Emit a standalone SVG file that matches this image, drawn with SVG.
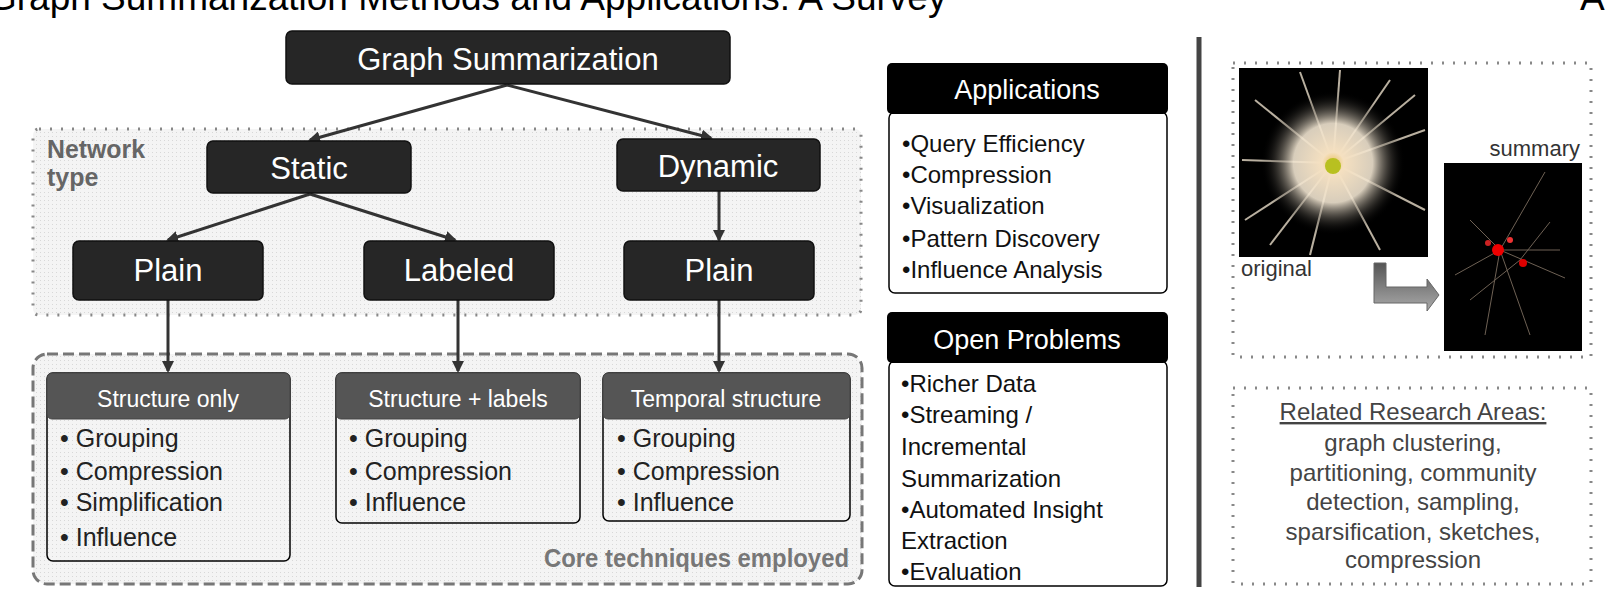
<svg xmlns="http://www.w3.org/2000/svg" width="1618" height="597" viewBox="0 0 1618 597">
<style>
text{font-family:"Liberation Sans",Arial,sans-serif}
.nb{fill:#262626;stroke:#111;stroke-width:1.5}
.nt{fill:#fff;font-size:31px;text-anchor:middle}
.hb{fill:#555;stroke:#444;stroke-width:1}
.ht{fill:#fff;font-size:23px;text-anchor:middle}
.lb{fill:none;stroke:#000;stroke-width:1.5}
.li{fill:#222;font-size:25px}
.ap{fill:#111;font-size:24px}
.ab{fill:#000}
.dot{fill:none;stroke:#888;stroke-width:3;stroke-dasharray:2 9}
.edge{stroke:#333;stroke-width:3;fill:none;marker-end:url(#ah)}
</style>
<defs>
<marker id="ah" markerWidth="12" markerHeight="12" refX="10" refY="6" orient="auto" markerUnits="userSpaceOnUse"><path d="M0,0 L12,6 L0,12 z" fill="#333"/></marker>
<pattern id="pt" width="4" height="4" patternUnits="userSpaceOnUse"><rect width="4" height="4" fill="#f4f4f4"/><rect width="1" height="1" fill="#d8d8d8"/></pattern>
<radialGradient id="burst"><stop offset="0" stop-color="#e8c060"/><stop offset="0.15" stop-color="#f5e0c0"/><stop offset="0.55" stop-color="#f0e4d0" stop-opacity="0.9"/><stop offset="1" stop-color="#000" stop-opacity="0"/></radialGradient>
<linearGradient id="arr" x1="0" y1="0" x2="0" y2="1"><stop offset="0" stop-color="#555"/><stop offset="1" stop-color="#aaa"/></linearGradient>
</defs>
<text x="-12" y="10" font-size="37" fill="#000">Graph Summarization Methods and Applications: A Survey</text>
<text x="1580" y="10" font-size="37" fill="#000">A</text>

<rect x="33" y="129" width="828" height="186" rx="6" style="fill:url(#pt)" class="dot"/>
<text x="47" y="158" font-size="25" font-weight="bold" fill="#666" textLength="98" lengthAdjust="spacingAndGlyphs">Network</text>
<text x="47" y="186" font-size="25" font-weight="bold" fill="#666">type</text>
<rect x="33" y="354" width="829" height="230" rx="14" fill="url(#pt)" stroke="#777" stroke-width="3" stroke-dasharray="11 5"/>
<text x="849" y="567" font-size="25" font-weight="bold" fill="#777" text-anchor="end" textLength="305" lengthAdjust="spacingAndGlyphs">Core techniques employed</text>

<g id="connectors">
<line class="edge" x1="507" y1="85" x2="310" y2="140"/>
<line class="edge" x1="507" y1="85" x2="711" y2="138"/>
<line class="edge" x1="310" y1="194" x2="168" y2="240"/>
<line class="edge" x1="310" y1="194" x2="455" y2="240"/>
<line class="edge" x1="719" y1="191" x2="719" y2="240"/>
<line class="edge" x1="168" y1="300" x2="168" y2="371"/>
<line class="edge" x1="458" y1="300" x2="458" y2="371"/>
<line class="edge" x1="719" y1="300" x2="719" y2="371"/>
</g>

<g id="n-root"><rect class="nb" x="286" y="31" width="444" height="53" rx="6"/><text class="nt" x="508" y="70">Graph Summarization</text></g>
<g id="n-static"><rect class="nb" x="207" y="141" width="204" height="52" rx="6"/><text class="nt" x="309" y="179">Static</text></g>
<g id="n-dynamic"><rect class="nb" x="617" y="139" width="203" height="52" rx="6"/><text class="nt" x="718" y="177">Dynamic</text></g>
<g id="n-plain1"><rect class="nb" x="73" y="241" width="190" height="59" rx="6"/><text class="nt" x="168" y="281">Plain</text></g>
<g id="n-labeled"><rect class="nb" x="364" y="241" width="190" height="59" rx="6"/><text class="nt" x="459" y="281">Labeled</text></g>
<g id="n-plain2"><rect class="nb" x="624" y="241" width="190" height="59" rx="6"/><text class="nt" x="719" y="281">Plain</text></g>

<g id="n-structure">
<rect class="lb" x="47" y="373" width="243" height="188" rx="6"/>
<rect class="hb" x="47" y="373" width="243" height="46" rx="5"/>
<text class="ht" x="168" y="407">Structure only</text>
<text class="li" x="60" y="447">•  Grouping</text>
<text class="li" x="60" y="480">•  Compression</text>
<text class="li" x="60" y="511">•  Simplification</text>
<text class="li" x="60" y="546">•  Influence</text>
</g>
<g id="n-structlabels">
<rect class="lb" x="336" y="373" width="244" height="150" rx="6"/>
<rect class="hb" x="336" y="373" width="244" height="46" rx="5"/>
<text class="ht" x="458" y="407">Structure + labels</text>
<text class="li" x="349" y="447">•  Grouping</text>
<text class="li" x="349" y="480">•  Compression</text>
<text class="li" x="349" y="511">•  Influence</text>
</g>
<g id="n-temporal">
<rect class="lb" x="603" y="373" width="247" height="148" rx="6"/>
<rect class="hb" x="603" y="373" width="247" height="46" rx="5"/>
<text class="ht" x="726" y="407">Temporal structure</text>
<text class="li" x="617" y="447">•  Grouping</text>
<text class="li" x="617" y="480">•  Compression</text>
<text class="li" x="617" y="511">•  Influence</text>
</g>

<g id="n-applications">
<rect class="lb" x="889" y="112" width="278" height="181" rx="6"/>
<rect class="ab" x="887" y="63" width="281" height="51" rx="5"/>
<text x="1027" y="99" font-size="27" fill="#fff" text-anchor="middle">Applications</text>
<text class="ap" x="902" y="152">•Query Efficiency</text>
<text class="ap" x="902" y="183">•Compression</text>
<text class="ap" x="902" y="214">•Visualization</text>
<text class="ap" x="902" y="247">•Pattern Discovery</text>
<text class="ap" x="902" y="278">•Influence Analysis</text>
</g>
<g id="n-open">
<rect class="lb" x="889" y="361" width="278" height="225" rx="6"/>
<rect class="ab" x="887" y="312" width="281" height="51" rx="5"/>
<text x="1027" y="349" font-size="27" fill="#fff" text-anchor="middle">Open Problems</text>
<text class="ap" x="901" y="392">•Richer Data</text>
<text class="ap" x="901" y="423">•Streaming /</text>
<text class="ap" x="901" y="455">Incremental</text>
<text class="ap" x="901" y="487">Summarization</text>
<text class="ap" x="901" y="518">•Automated Insight</text>
<text class="ap" x="901" y="549">Extraction</text>
<text class="ap" x="901" y="580">•Evaluation</text>
</g>

<line x1="1199" y1="37" x2="1199" y2="587" stroke="#444" stroke-width="5"/>

<g id="n-visual">
<rect class="dot" x="1233" y="63" width="358" height="294"/>
<rect x="1239" y="68" width="189" height="189" fill="#000"/>
<g stroke="#e8dcc8" stroke-width="2" opacity="0.8">
<line x1="1333" y1="163" x2="1300" y2="72"/><line x1="1333" y1="163" x2="1390" y2="80"/><line x1="1333" y1="163" x2="1425" y2="130"/><line x1="1333" y1="163" x2="1425" y2="210"/><line x1="1333" y1="163" x2="1380" y2="250"/><line x1="1333" y1="163" x2="1310" y2="255"/><line x1="1333" y1="163" x2="1245" y2="220"/><line x1="1333" y1="163" x2="1242" y2="160"/><line x1="1333" y1="163" x2="1255" y2="100"/><line x1="1333" y1="163" x2="1340" y2="70"/><line x1="1333" y1="163" x2="1415" y2="95"/><line x1="1333" y1="163" x2="1270" y2="245"/>
</g>
<circle cx="1333" cy="163" r="72" fill="url(#burst)"/>
<circle cx="1333" cy="166" r="8" fill="#b8c020"/>
<text x="1241" y="276" font-size="22" fill="#333">original</text>
<text x="1580" y="156" font-size="22" fill="#333" text-anchor="end">summary</text>
<rect x="1444" y="163" width="138" height="188" fill="#000"/>
<g stroke="#8a7a6a" stroke-width="1" opacity="0.8">
<line x1="1500" y1="250" x2="1470" y2="220"/><line x1="1500" y1="250" x2="1545" y2="172"/><line x1="1500" y1="250" x2="1560" y2="250"/><line x1="1500" y1="250" x2="1455" y2="275"/><line x1="1500" y1="250" x2="1485" y2="335"/><line x1="1500" y1="250" x2="1530" y2="335"/><line x1="1500" y1="250" x2="1565" y2="278"/><line x1="1520" y1="260" x2="1470" y2="300"/><line x1="1520" y1="260" x2="1550" y2="222"/>
</g>
<circle cx="1498" cy="250" r="6" fill="#e00"/><circle cx="1523" cy="263" r="4" fill="#d00"/><circle cx="1510" cy="240" r="3" fill="#e33"/><circle cx="1488" cy="243" r="3" fill="#c22"/>
<path d="M1374,263 h12 v24 h41 v-8 l12,16 -12,16 v-8 h-53 z" fill="url(#arr)" stroke="#666"/>
</g>
<g id="n-related">
<rect class="dot" x="1233" y="388" width="358" height="196"/>
<text x="1413" y="420" font-size="24" fill="#444" text-anchor="middle" text-decoration="underline">Related Research Areas:</text>
<text x="1413" y="451" font-size="24" fill="#444" text-anchor="middle">graph clustering,</text>
<text x="1413" y="481" font-size="24" fill="#444" text-anchor="middle">partitioning, community</text>
<text x="1413" y="510" font-size="24" fill="#444" text-anchor="middle">detection, sampling,</text>
<text x="1413" y="540" font-size="24" fill="#444" text-anchor="middle">sparsification, sketches,</text>
<text x="1413" y="568" font-size="24" fill="#444" text-anchor="middle">compression</text>
</g>
</svg>
